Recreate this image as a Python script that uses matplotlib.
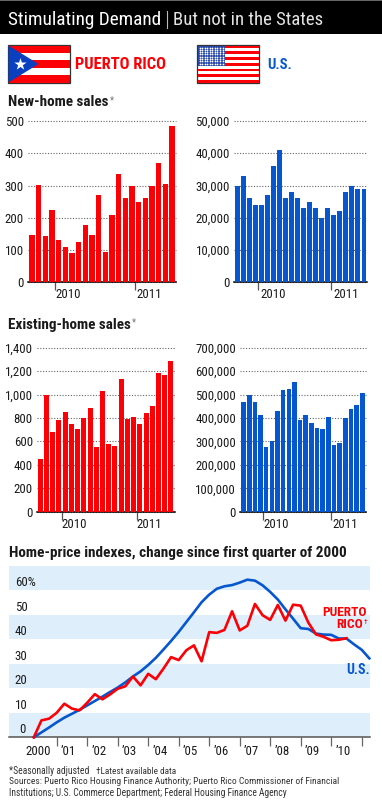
import matplotlib
matplotlib.use("Agg")
import matplotlib.pyplot as plt
from matplotlib.patches import Rectangle, Polygon
from matplotlib.transforms import blended_transform_factory
from matplotlib import font_manager as fm
import numpy as np

W, H = 382, 807
installed = {f.name for f in fm.fontManager.ttflist}
NARROW = [n for n in ['Roboto Condensed', 'Archivo Narrow', 'PT Sans Narrow', 'Lato', 'Roboto', 'DejaVu Sans']
          if n in installed]
plt.rcParams['font.family'] = NARROW[:1] + ['DejaVu Sans']

# ---------- data ----------
pr_new = [148, 303, 144, 225, 130, 110, 92, 126, 177, 148, 272, 94, 210, 336, 262, 298, 248, 260, 298, 370, 305, 484]
us_new = [30000, 33000, 26000, 24000, 24000, 27000, 36000, 41000, 26000, 28000, 26000, 23000, 25000, 23000, 20000,
          23000, 21000, 22000, 28000, 30000, 29000, 29000]
pr_existing = [450, 995, 680, 780, 855, 750, 705, 800, 885, 550, 1030, 580, 560, 1130, 790, 810, 745, 840, 900,
               1180, 1165, 1285]
us_existing = [468000, 498000, 470000, 412000, 275000, 300000, 430000, 520000, 525000, 555000, 390000, 413000,
               378000, 358000, 355000, 403000, 285000, 295000, 402000, 437000, 457000, 507000]
pr_index = [0, 6.9, 7.6, 10.0, 13.7, 11.7, 11.0, 14.1, 17.6, 15.5, 17.5, 19.8, 20.8, 24.8, 21.2, 25.9, 23.7, 28.0,
            32.7, 31.5, 35.5, 37.5, 31.0, 42.9, 42.6, 43.8, 51.4, 43.6, 45.5, 54.4, 49.8, 47.9, 54.0, 47.6, 54.1,
            53.7, 46.8, 42.0, 41.0, 39.6, 39.8, 40.4]
us_index = [0, 2.0, 4.0, 6.1, 8.0, 9.6, 11.2, 13.0, 14.8, 16.6, 18.5, 20.3, 22.4, 24.8, 26.9, 29.5, 32.4, 35.8,
            39.3, 43.0, 47.0, 51.0, 55.1, 58.2, 60.6, 61.6, 62.1, 63.1, 64.3, 63.9, 62.0, 59.3, 56.2, 52.2, 48.4,
            44.5, 44.2, 42.3, 41.9, 41.8, 40.3, 40.3, 37.9, 35.7, 32.2]
year_labels = ['2000', "\u201901", "\u201902", "\u201903", "\u201904", "\u201905", "\u201906", "\u201907", "\u201908", "\u201909", "\u201910"]
index_ticks = [0, 10, 20, 30, 40, 50, 60]
new_pr_ticks = [0, 100, 200, 300, 400, 500]
new_us_ticks = [0, 10000, 20000, 30000, 40000, 50000]
ex_pr_ticks = [0, 200, 400, 600, 800, 1000, 1200, 1400]
ex_us_ticks = [0, 100000, 200000, 300000, 400000, 500000, 600000, 700000]

RED = '#fb0005'
BLUE = '#0657cf'
BAND = '#deeefb'
INK = '#1a1a1a'
TICK_SIZE = 9.3

fig = plt.figure(figsize=(W / 100, H / 100), dpi=100, facecolor='white')
renderer = fig.canvas.get_renderer()


def px_axes(left, top, right, bottom, z=1):
    return fig.add_axes([left / W, 1 - bottom / H, (right - left) / W, (bottom - top) / H], zorder=z)


ov = fig.add_axes([0, 0, 1, 1], zorder=0)
ov.set_xlim(0, W)
ov.set_ylim(H, 0)
ov.axis('off')


def fit(x0, x1, y, txt, **kw):
    """Place text spanning x0..x1 pixels by choosing its font size."""
    t = ov.text(x0, y, txt, va='center', ha='left', fontsize=10, **kw)
    w = t.get_window_extent(renderer).width
    t.set_fontsize(10 * (x1 - x0) / w)
    return t


ov.add_patch(Rectangle((0, 0), W, 34, color='black', lw=0))
ov.add_patch(Rectangle((0, 0), W, 1, color='#666666', lw=0))
fit(8, 160.5, 20, 'Stimulating Demand', color='white')
ov.plot([166.5, 166.5], [11, 28], color='#bbbbbb', lw=0.8)
fit(173, 322, 20, 'But not in the States', color='#e4e4e4')

# Puerto Rico flag
ov.add_patch(Rectangle((8, 45), 62, 38, facecolor='white', edgecolor='#333333', lw=0.9))
for s in (0, 2, 4):
    ov.add_patch(Rectangle((8.5, 45.5 + s * 7.4), 61, 7.4, color=RED, lw=0))
ov.add_patch(Polygon([[8.5, 45.5], [38.5, 64], [8.5, 82.5]], color='#0a3fc0', lw=0))
ov.scatter([19.5], [64], marker='*', s=85, color='white', zorder=5, lw=0)
fit(75, 165.5, 64.5, 'PUERTO RICO', color=RED, fontweight='bold')

# US flag
ov.add_patch(Rectangle((197, 45), 62, 38, facecolor='white', edgecolor='#333333', lw=0.9))
for s in range(7):
    ov.add_patch(Rectangle((197.5, 45.5 + s * 5.77), 61, 2.88, color=RED, lw=0))
ov.add_patch(Rectangle((197.5, 45.5), 27, 20, color='#2747a8', lw=0))
sx, sy = np.meshgrid(np.linspace(199.5, 222.5, 10), np.linspace(47.5, 63.5, 8))
ov.scatter(sx.ravel(), sy.ravel(), s=1.6, color='white', lw=0, zorder=5)
fit(267, 292, 65, 'U.S.', color=BLUE, fontweight='bold')

fit(8, 108.5, 102.5, 'New-home sales', color=INK, fontweight='bold')
ov.text(109.5, 100, '*', color='#777777', fontsize=7, va='center', ha='left')
fit(8, 131, 325, 'Existing-home sales', color=INK, fontweight='bold')
ov.text(132, 322.5, '*', color='#777777', fontsize=7, va='center', ha='left')
fit(9, 346, 553, 'Home-price indexes, change since first quarter of 2000', color=INK, fontweight='bold')


def barpanel(vals, ticks, color, left, right, top, bottom, first_c, pitch, label_px, year_px=(2010, 2011)):
    ax = px_axes(left, top, right, bottom)
    ax.patch.set_alpha(0)
    n = np.arange(len(vals))
    ax.bar(n, vals, width=0.8, color=color, linewidth=0, zorder=3)
    ax.set_xlim((left - first_c) / pitch, (right - first_c) / pitch)
    ax.set_ylim(ticks[0], ticks[-1])
    ax.set_yticks(ticks)
    ax.set_yticklabels([f'{t:,}' for t in ticks], fontsize=TICK_SIZE, color=INK)
    ax.tick_params(axis='y', length=0, pad=3)
    ax.grid(axis='y', color='#666666', lw=0.8, linestyle=(0, (1, 1.5)), zorder=1, clip_on=False)
    ax.set_xticks([3.5, 15.5])
    ax.set_xticklabels([])
    ax.tick_params(axis='x', length=6, width=0.9, color='#555555')
    for s in ('top', 'left', 'right'):
        ax.spines[s].set_visible(False)
    ax.spines['bottom'].set_color('black')
    ax.spines['bottom'].set_linewidth(1.1)
    ax.set_axisbelow(True)
    for lab, px in zip(year_px, label_px):
        ax.text((px - first_c) / pitch, bottom + 12.5, str(lab), fontsize=TICK_SIZE, color=INK, ha='center',
                va='center', transform=blended_transform_factory(ax.transData, ov.transData))
    return ax


barpanel(pr_new, new_pr_ticks, RED, 28, 175.5, 121, 282.3, 32, 6.67, (68, 149))
barpanel(us_new, new_us_ticks, BLUE, 234, 367, 121, 282.3, 237.3, 6.03, (272.7, 345.7))
barpanel(pr_existing, ex_pr_ticks, RED, 37, 174.5, 347.7, 511.7, 40.3, 6.22, (74.3, 149.3))
barpanel(us_existing, ex_us_ticks, BLUE, 240, 365.5, 347.7, 511.7, 243.6, 5.65, (276, 345))

# ---------- line chart ----------
QUARTER = 0.25
ax = px_axes(9.3, 565.7, 369.7, 737.3, z=2)
ax.patch.set_alpha(0)
ax.set_xlim(2000 + (9.3 - 26.2) / 30.5, 2000 + (369.7 - 26.2) / 30.5)
ax.set_ylim(0, 70)
for b in (0, 20, 40, 60):
    ax.axhspan(b, b + 10, color=BAND, lw=0, zorder=0)
q_us = 2000.25 + np.arange(len(us_index)) * QUARTER
q_pr = 2000.25 + np.arange(len(pr_index)) * QUARTER
ax.plot(q_us, us_index, color=BLUE, lw=1.9, zorder=3, solid_joinstyle='round', clip_on=False)
ax.plot(q_pr, pr_index, color=RED, lw=1.9, zorder=4, solid_joinstyle='round', clip_on=False)
ax.set_yticks([])
ax.set_xticks(np.arange(2001, 2012))
ax.set_xticklabels([])
ax.tick_params(axis='x', length=6.5, width=0.9, color='#666666')
for s in ('top', 'left', 'right'):
    ax.spines[s].set_visible(False)
ax.spines['bottom'].set_color('#555555')
ax.spines['bottom'].set_linewidth(1.1)

tr_y = blended_transform_factory(ov.transData, ax.transData)
for v in index_ticks:
    if v == 0:
        ax.text(25.3, v + 3, '0', transform=tr_y, fontsize=TICK_SIZE, color=INK, ha='right', va='center')
    else:
        ax.text(14.7, v + 3, f'{v}%' if v == 60 else str(v), transform=tr_y, fontsize=TICK_SIZE, color=INK,
                ha='left', va='center')
tr_x = blended_transform_factory(ax.transData, ov.transData)
for yr, lab in zip(np.arange(2000, 2011), year_labels):
    ax.text(yr + 0.38, 751.7, lab, transform=tr_x, fontsize=TICK_SIZE, color=INK, ha='center', va='center')

ax2 = fig.add_axes([0, 0, 1, 1], zorder=3)
ax2.set_xlim(0, W)
ax2.set_ylim(H, 0)
ax2.axis('off')
ax2.text(366.5, 613, 'PUERTO', color=RED, fontsize=9.6, fontweight='bold', ha='right', va='center')
ax2.text(363, 624.5, 'RICO', color=RED, fontsize=9.6, fontweight='bold', ha='right', va='center')
ax2.text(363.5, 622, '\u2020', color=RED, fontsize=5.5, ha='left', va='center')
ax2.text(370, 669.5, 'U.S.', color=BLUE, fontsize=10, fontweight='bold', ha='right', va='center')

FOOT = '#333333'
fit(9, 89, 771.5, '*Seasonally adjusted', color=FOOT)
fit(96, 176, 771.5, '\u2020Latest available data', color=FOOT)
fit(9, 335, 782, 'Sources: Puerto Rico Housing Finance Authority; Puerto Rico Commissioner of Financial', color=FOOT)
fit(9, 285, 792.5, 'Institutions; U.S. Commerce Department; Federal Housing Finance Agency', color=FOOT)

fig.savefig('out.png', dpi=100, facecolor='white')
